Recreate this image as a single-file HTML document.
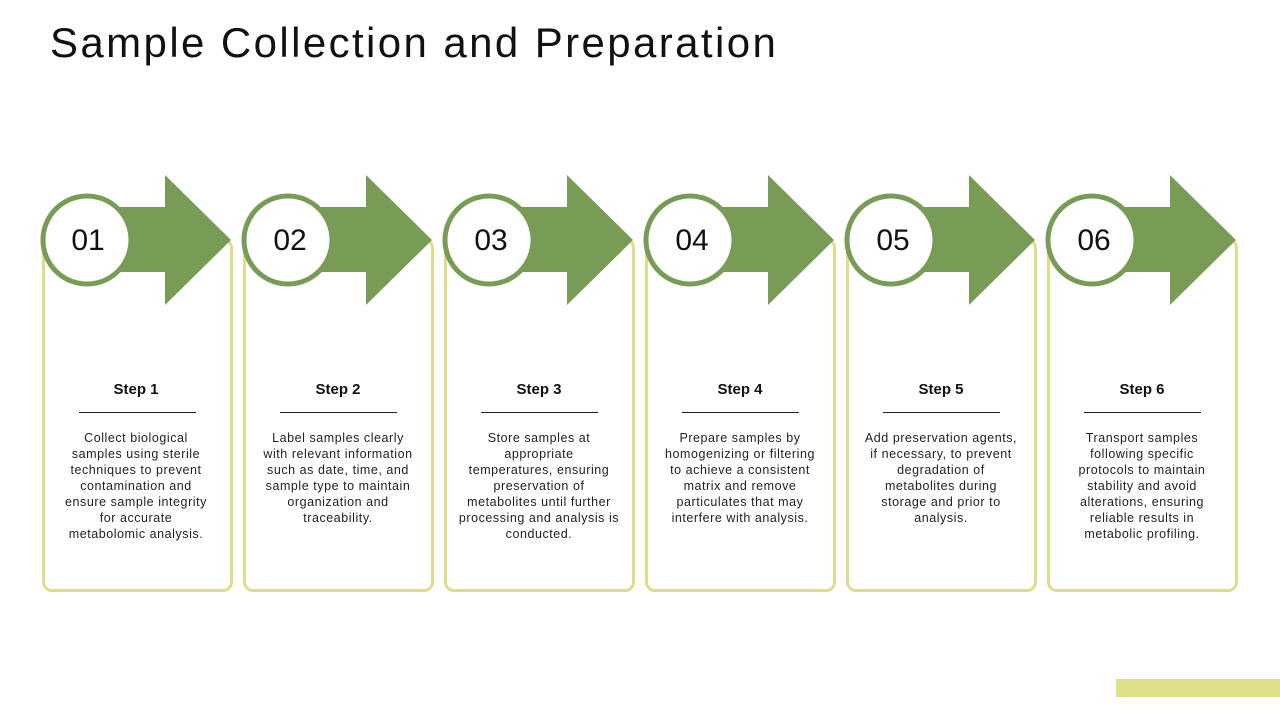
<!DOCTYPE html>
<html><head><meta charset="utf-8"><style>
body{margin:0;width:1280px;height:720px;background:#fff;position:relative;overflow:hidden;font-family:"Liberation Sans",sans-serif}
h1{position:absolute;left:50px;top:19px;margin:0;font-weight:normal;font-size:42px;letter-spacing:2.4px;color:#111}
.card{position:absolute;top:238px;width:185px;height:348px;border:3px solid #dedd8c;border-radius:10px}
.t{position:absolute;top:381px;width:190px;text-align:center;font-weight:bold;font-size:15px;color:#111}
.ln{position:absolute;top:412px;width:117px;height:1px;background:#222}
.b{position:absolute;top:430px;width:190px;text-align:center;font-size:12.5px;letter-spacing:0.55px;line-height:16px;color:#222;white-space:nowrap}
.bar{position:absolute;left:1116px;top:679px;width:164px;height:18px;background:#e0df8a}
</style></head><body>
<h1>Sample Collection and Preparation</h1>
<div class="card" style="left:42px"></div>
<div class="card" style="left:243px"></div>
<div class="card" style="left:444px"></div>
<div class="card" style="left:645px"></div>
<div class="card" style="left:846px"></div>
<div class="card" style="left:1047px"></div>
<svg width="1280" height="720" style="position:absolute;left:0;top:0">
<g font-family="Liberation Sans" font-size="30" fill="#111" text-anchor="middle">
<g id="a"><path d="M87 207 H165 V175 L231 240 L165 305 V272 H87 Z" fill="#789b56"/><circle cx="87" cy="240" r="44" fill="#fff" stroke="#789b56" stroke-width="5"/></g>
<use href="#a" x="201"/><use href="#a" x="402"/><use href="#a" x="603"/><use href="#a" x="804"/><use href="#a" x="1005"/>
<text x="88" y="250">01</text><text x="290" y="250">02</text><text x="491" y="250">03</text><text x="692" y="250">04</text><text x="893" y="250">05</text><text x="1094" y="250">06</text>
</g></svg>
<div class="t" style="left:41px">Step 1</div><div class="ln" style="left:79px"></div>
<div class="b" style="left:41px">Collect biological<br>samples using sterile<br>techniques to prevent<br>contamination and<br>ensure sample integrity<br>for accurate<br>metabolomic analysis.</div>
<div class="t" style="left:243px">Step 2</div><div class="ln" style="left:280px"></div>
<div class="b" style="left:243px">Label samples clearly<br>with relevant information<br>such as date, time, and<br>sample type to maintain<br>organization and<br>traceability.</div>
<div class="t" style="left:444px">Step 3</div><div class="ln" style="left:481px"></div>
<div class="b" style="left:444px">Store samples at<br>appropriate<br>temperatures, ensuring<br>preservation of<br>metabolites until further<br>processing and analysis is<br>conducted.</div>
<div class="t" style="left:645px">Step 4</div><div class="ln" style="left:682px"></div>
<div class="b" style="left:645px">Prepare samples by<br>homogenizing or filtering<br>to achieve a consistent<br>matrix and remove<br>particulates that may<br>interfere with analysis.</div>
<div class="t" style="left:846px">Step 5</div><div class="ln" style="left:883px"></div>
<div class="b" style="left:846px">Add preservation agents,<br>if necessary, to prevent<br>degradation of<br>metabolites during<br>storage and prior to<br>analysis.</div>
<div class="t" style="left:1047px">Step 6</div><div class="ln" style="left:1084px"></div>
<div class="b" style="left:1047px">Transport samples<br>following specific<br>protocols to maintain<br>stability and avoid<br>alterations, ensuring<br>reliable results in<br>metabolic profiling.</div>
<div class="bar"></div>
</body></html>
